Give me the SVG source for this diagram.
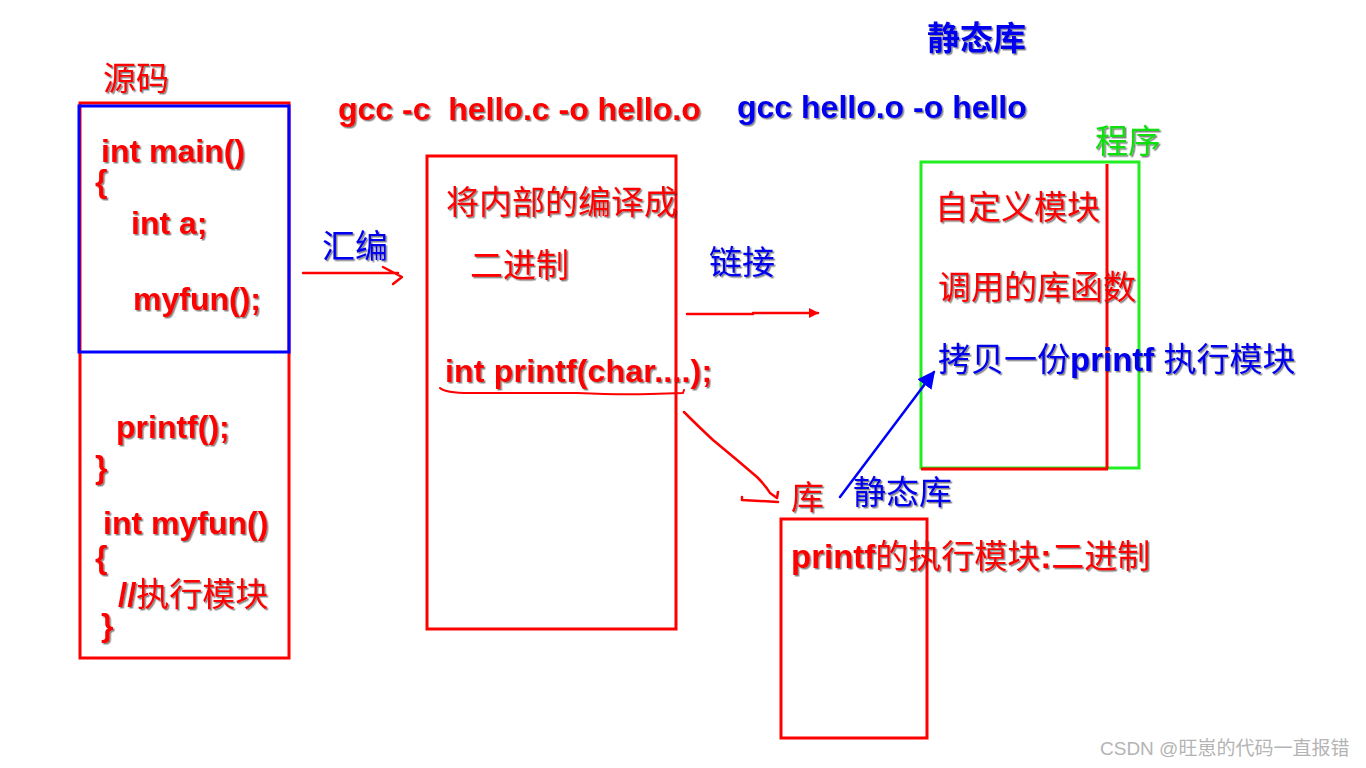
<svg xmlns="http://www.w3.org/2000/svg" width="1366" height="768" viewBox="0 0 1366 768">
<defs>
<filter id="sh" x="-5%" y="-20%" width="110%" height="140%">
<feDropShadow dx="1.5" dy="1.5" stdDeviation="0.4" flood-color="#222" flood-opacity="0.55"/>
</filter>
<marker id="ah" viewBox="0 0 10 10" refX="9" refY="5" markerWidth="7" markerHeight="7" orient="auto">
<path d="M0,0 L10,5 L0,10 z" fill="#0000ff"/>
</marker>
<marker id="ahr" viewBox="0 0 10 10" refX="9" refY="5" markerWidth="4" markerHeight="4" orient="auto">
<path d="M0,0 L10,5 L0,10 z" fill="#ff0000"/>
</marker>
</defs>
<style>
text{font-family:"Liberation Sans","Noto Sans CJK SC",sans-serif;font-size:33px;filter:url(#sh);white-space:pre}
.b{font-weight:bold}
.c{font-size:32px}
.r{fill:#ff0000}
.bl{fill:#0000ee}
.g{fill:#11e011}
.box{fill:none;stroke-width:3}
.wm{font-size:19px;fill:#b4b4b4;filter:none}
</style>
<rect width="1366" height="768" fill="#ffffff"/>

<g id="source">
<text class="r" x="103" y="90">源码</text>
<rect class="box" x="80" y="103" width="209" height="555" stroke="#ff0000"/>
<rect class="box" x="79" y="106" width="210" height="246" stroke="#0000ff"/>
<text class="r b c" x="101" y="162">int main()</text>
<text class="r b c" x="95" y="192">{</text>
<text class="r b c" x="131" y="234">int a;</text>
<text class="r b c" x="133" y="310">myfun();</text>
<text class="r b c" x="116" y="438">printf();</text>
<text class="r b c" x="95" y="478">}</text>
<text class="r b c" x="103" y="534">int myfun()</text>
<text class="r b c" x="95" y="568">{</text>
<text class="r" x="118" y="606"><tspan class="b">//</tspan>执行模块</text>
<text class="r b c" x="101" y="636">}</text>
</g>

<g id="compile">
<text class="r b c" x="338" y="120" xml:space="preserve">gcc -c  hello.c -o hello.o</text>
<rect class="box" x="427" y="156" width="249" height="473" stroke="#ff0000"/>
<text class="r" x="446" y="214">将内部的编译成</text>
<text class="r" x="470" y="277">二进制</text>
<text class="r b c" x="445" y="382" style="letter-spacing:0.2px">int printf(char....);</text>
</g>

<g id="lib">
<text class="bl b" x="927" y="50">静态库</text>
<text class="bl b c" x="737" y="118">gcc hello.o -o hello</text>
<text class="r" x="791" y="509">库</text>
<text class="bl" x="853" y="504">静态库</text>
<rect class="box" x="781" y="519" width="146" height="219" stroke="#ff0000"/>
<text class="r" x="791" y="568"><tspan class="b">printf</tspan>的执行模块<tspan class="b">:</tspan>二进制</text>
</g>

<g id="program">
<text class="g" x="1095" y="153">程序</text>
<rect class="box" x="921" y="162" width="218" height="306" stroke="#22ee22"/>
<line x1="1107" y1="164" x2="1107" y2="469" stroke="#ff0000" stroke-width="3"/>
<line x1="921" y1="469" x2="1108" y2="469" stroke="#ff0000" stroke-width="3"/>
<text class="r" x="935" y="219">自定义模块</text>
<text class="r" x="938" y="299">调用的库函数</text>
<text class="bl" x="938" y="371" xml:space="preserve">拷贝一份<tspan class="b">printf</tspan> 执行模块</text>
</g>

<g id="connectors" fill="none" stroke-linecap="round" stroke-linejoin="round">
<text class="bl" x="322" y="258">汇编</text>
<path d="M303,273 L398,273 M383,267 L402,277 L393,284" stroke="#ff0000" stroke-width="2.5"/>
<text class="bl" x="709" y="274">链接</text>
<path d="M687,314 L753,314 L753,313 L818,313" stroke="#ff0000" stroke-width="2.5" marker-end="url(#ahr)"/>
<path d="M440,388 Q445,393 470,393 L577,393 Q620,395 650,394 L683,393 L684,390" stroke="#ff0000" stroke-width="2"/>
<path d="M684,412 Q700,428 713,440 L737,460 L757,477 Q766,486 770,493 L777,498 L778,492 M778,502 L742,500 L742,497" stroke="#ff0000" stroke-width="2.5"/>
<path d="M840,497 L934,372" stroke="#0000ff" stroke-width="2.5" marker-end="url(#ah)"/>
</g>

<text class="wm" x="1100" y="755">CSDN @旺崽的代码一直报错</text>
</svg>
